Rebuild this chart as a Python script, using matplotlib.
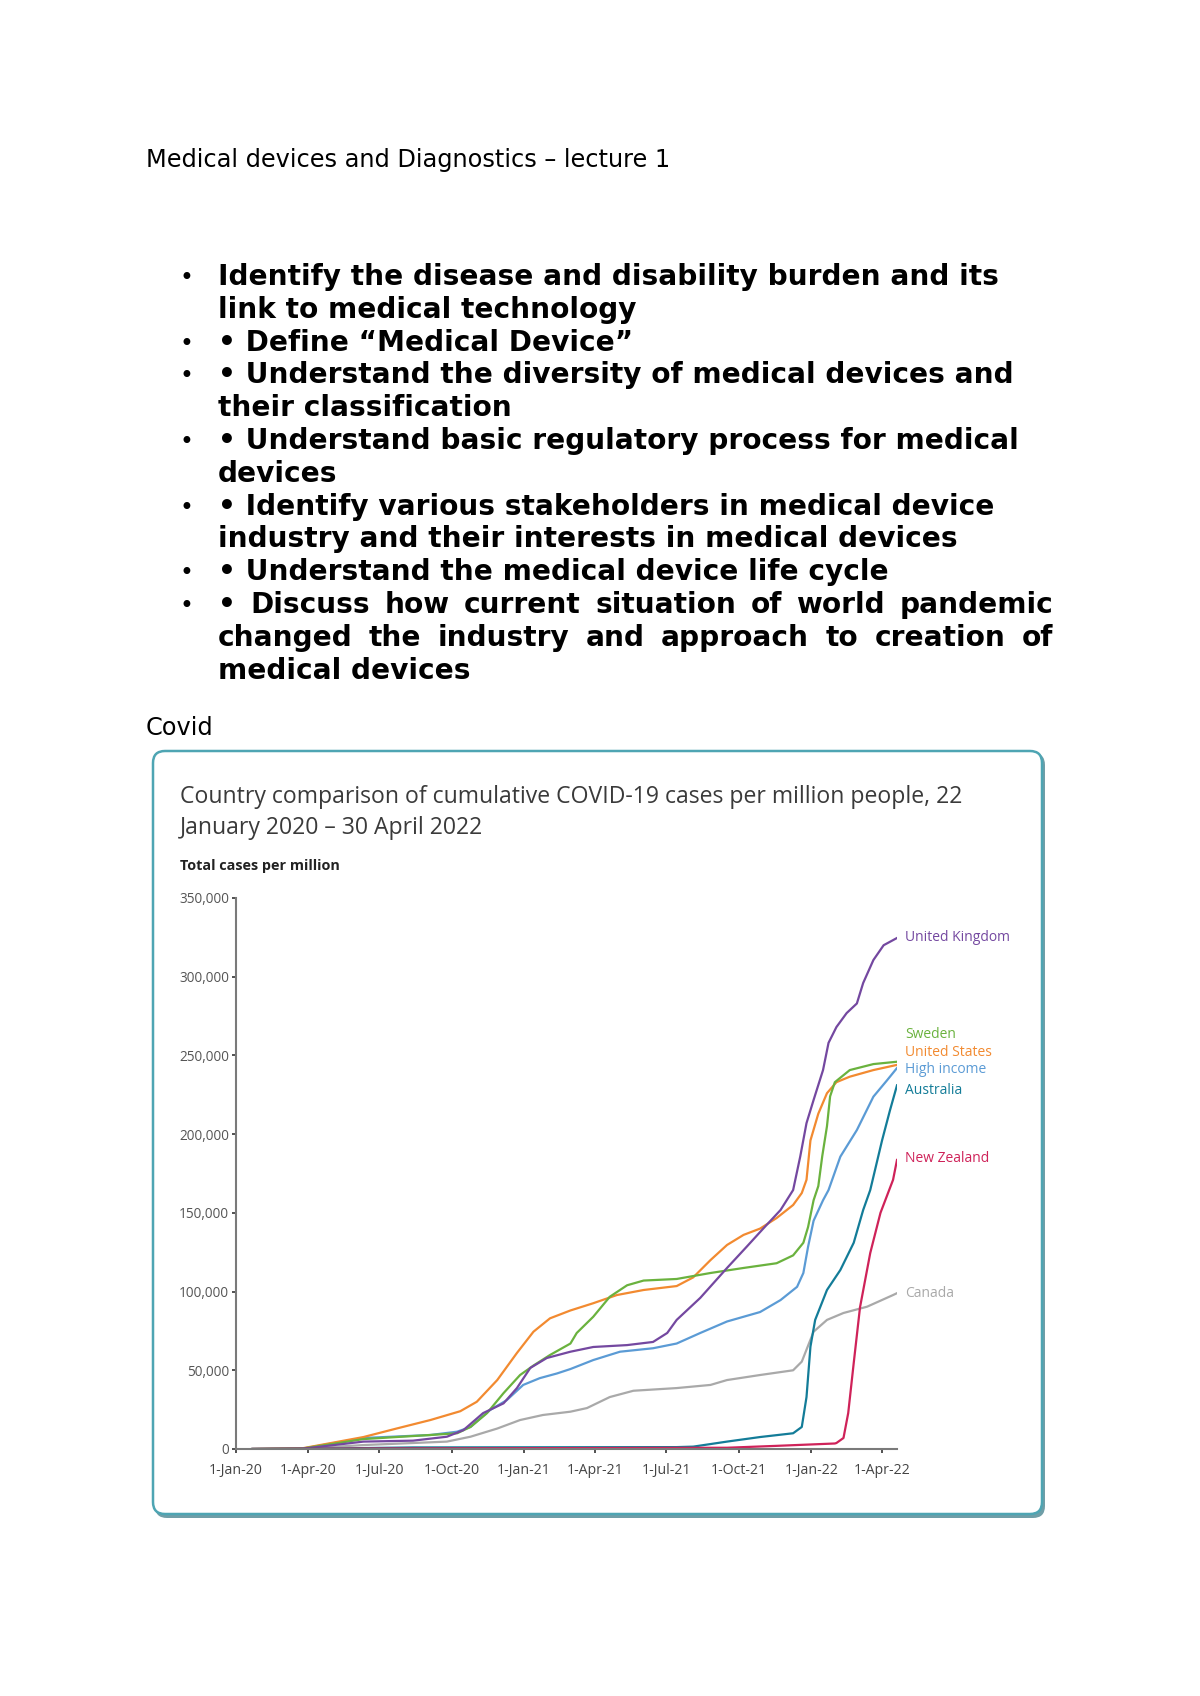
import matplotlib
matplotlib.use("Agg")
import matplotlib.pyplot as plt
import pandas as pd
from matplotlib.patches import FancyBboxPatch
from matplotlib.transforms import IdentityTransform
from matplotlib.ticker import FuncFormatter

W, H = 1200, 1696

### DATA (cumulative cases per million, thousands)
uk_dates = ["2020-01-22", "2020-03-26", "2020-06-11", "2020-08-13", "2020-09-25", "2020-10-16",
            "2020-11-10", "2020-12-06", "2020-12-23", "2021-01-09", "2021-01-30", "2021-03-01",
            "2021-03-30", "2021-05-12", "2021-06-14", "2021-07-02", "2021-07-14", "2021-08-13",
            "2021-09-16", "2021-10-11", "2021-11-01", "2021-11-23", "2021-12-09", "2021-12-18",
            "2021-12-26", "2022-01-04", "2022-01-16", "2022-01-23", "2022-02-02", "2022-02-15",
            "2022-02-28", "2022-03-08", "2022-03-21", "2022-04-03", "2022-04-20"]
uk_vals = [0, 0.2, 4.7, 5.3, 7.8, 12, 22.8, 29, 38.7, 51.5, 57.8, 61.8, 64.8, 66, 68, 73.7, 82, 96,
           115, 128.5, 140, 151.8, 164.5, 185.7, 207, 221.7, 240.7, 258, 268, 276.9, 283, 296,
           310.6, 320, 324.6]

se_dates = ["2020-01-22", "2020-03-26", "2020-06-11", "2020-07-23", "2020-09-04", "2020-10-08",
            "2020-10-25", "2020-11-15", "2020-12-06", "2020-12-27", "2021-01-13", "2021-02-03",
            "2021-03-01", "2021-03-09", "2021-03-30", "2021-04-20", "2021-05-12", "2021-06-02",
            "2021-07-14", "2021-08-26", "2021-10-07", "2021-11-18", "2021-12-09", "2021-12-22",
            "2021-12-28", "2022-01-04", "2022-01-10", "2022-01-15", "2022-01-21", "2022-01-25",
            "2022-01-31", "2022-02-19", "2022-03-21", "2022-04-20"]
se_vals = [0, 0.3, 6.3, 7.6, 8.9, 10, 14, 22.8, 35.5, 47, 53, 59.7, 67, 73.7, 84, 96.7, 104, 107,
           108, 111.8, 115, 118, 123, 131, 141, 158, 167, 186, 205, 224, 233, 240.7, 244.5, 246]

us_dates = ["2020-01-22", "2020-03-26", "2020-06-11", "2020-07-23", "2020-09-04", "2020-10-12",
            "2020-11-02", "2020-11-28", "2020-12-23", "2021-01-13", "2021-02-03", "2021-03-01",
            "2021-03-30", "2021-04-29", "2021-06-02", "2021-07-14", "2021-08-04", "2021-08-26",
            "2021-09-16", "2021-10-07", "2021-10-28", "2021-11-18", "2021-12-09", "2021-12-20",
            "2021-12-26", "2021-12-31", "2022-01-10", "2022-01-21", "2022-02-02", "2022-02-19",
            "2022-03-21", "2022-04-20"]
us_vals = [0, 0.5, 7.6, 13, 18.4, 24, 30, 43.8, 61, 74.5, 83, 88, 92.6, 97.8, 101, 103.5, 109, 120,
           129.6, 136, 140, 146.7, 155, 162.6, 171, 196, 213, 226, 233, 236.5, 240.7, 244]

hi_dates = ["2020-01-22", "2020-03-26", "2020-06-11", "2020-09-04", "2020-10-08", "2020-10-25",
            "2020-11-19", "2020-12-10", "2020-12-31", "2021-01-21", "2021-02-12", "2021-03-01",
            "2021-03-30", "2021-05-03", "2021-06-14", "2021-07-14", "2021-08-13", "2021-09-16",
            "2021-10-28", "2021-11-23", "2021-12-14", "2021-12-22", "2021-12-28", "2022-01-04",
            "2022-01-16", "2022-01-23", "2022-02-07", "2022-02-28", "2022-03-21", "2022-04-07",
            "2022-04-20"]
hi_vals = [0, 0.3, 7, 8.9, 11, 14, 24.8, 31, 40.7, 45, 48, 50.8, 56.5, 61.8, 64, 67, 73.7, 81, 87,
           94.6, 103, 111.8, 128.5, 145, 158, 164.5, 185.7, 202.6, 223.8, 234, 242]

au_dates = ["2020-01-22", "2020-03-26", "2020-08-13", "2021-07-14", "2021-08-04", "2021-09-16",
            "2021-10-28", "2021-12-09", "2021-12-20", "2021-12-26", "2021-12-31", "2022-01-06",
            "2022-01-21", "2022-02-07", "2022-02-24", "2022-03-08", "2022-03-17", "2022-04-01",
            "2022-04-11", "2022-04-20"]
au_vals = [0, 0.1, 1, 1.2, 1.5, 4.7, 7.6, 10, 14, 33, 65, 82, 101, 113.7, 131, 151.8, 164.5, 196,
           215, 231]

nz_dates = ["2020-01-22", "2020-03-26", "2020-06-11", "2021-09-16", "2021-11-18", "2022-01-31",
            "2022-02-02", "2022-02-11", "2022-02-17", "2022-02-24", "2022-03-04", "2022-03-17",
            "2022-03-30", "2022-04-15", "2022-04-20"]
nz_vals = [0, 0.1, 0.3, 0.8, 2, 3.5, 3.8, 7, 22.8, 54.6, 90, 124.5, 150, 171, 183.6]

ca_dates = ["2020-01-22", "2020-03-26", "2020-06-11", "2020-08-13", "2020-09-25", "2020-10-25",
            "2020-11-28", "2020-12-27", "2021-01-25", "2021-03-01", "2021-03-22", "2021-04-20",
            "2021-05-20", "2021-07-14", "2021-08-26", "2021-09-16", "2021-10-28", "2021-12-09",
            "2021-12-20", "2022-01-04", "2022-01-21", "2022-02-11", "2022-03-13", "2022-04-15",
            "2022-04-20"]
ca_vals = [0, 0.2, 2.5, 3.8, 4.7, 7.8, 13, 18.4, 21.6, 23.7, 26, 33, 37, 38.7, 40.7, 43.8, 47, 50,
           55.5, 74.5, 82, 86.4, 90.4, 97.8, 99]

# name, dates, values, line colour, label y (thousands)
series = [
    ("Canada", ca_dates, ca_vals, "#a9a9a9", 99),
    ("High income", hi_dates, hi_vals, "#5b9bd5", 241),
    ("United States", us_dates, us_vals, "#f28a30", 252),
    ("Sweden", se_dates, se_vals, "#6ab23e", 263.6),
    ("United Kingdom", uk_dates, uk_vals, "#7448a0", 324.6),
    ("Australia", au_dates, au_vals, "#137c98", 228),
    ("New Zealand", nz_dates, nz_vals, "#cf2259", 184.8),
]

x_ticks = ["2020-01-01", "2020-04-01", "2020-07-01", "2020-10-01", "2021-01-01",
           "2021-04-01", "2021-07-01", "2021-10-01", "2022-01-01", "2022-04-01"]
x_labels = ["1-Jan-20", "1-Apr-20", "1-Jul-20", "1-Oct-20", "1-Jan-21",
            "1-Apr-21", "1-Jul-21", "1-Oct-21", "1-Jan-22", "1-Apr-22"]
y_ticks = [0, 50000, 100000, 150000, 200000, 250000, 300000, 350000]

bullets = [
    "Identify the disease and disability burden and its\nlink to medical technology",
    "• Define “Medical Device”",
    "• Understand the diversity of medical devices and\ntheir classification",
    "• Understand basic regulatory process for medical\ndevices",
    "• Identify various stakeholders in medical device\nindustry and their interests in medical devices",
    "• Understand the medical device life cycle",
    "• Discuss how current situation of world pandemic\nchanged the industry and approach to creation of\nmedical devices",
]
justified = {"• Discuss how current situation of world pandemic",
             "changed the industry and approach to creation of"}


def fx(x):
    return x / W


def fy(y):
    return 1 - y / H


fig = plt.figure(figsize=(W / 100, H / 100), dpi=100)
fig.patch.set_facecolor("white")

### DOCUMENT TEXT
fig.text(fx(146), fy(166.5), "Medical devices and Diagnostics – lecture 1",
         fontsize=17.3, family="DejaVu Sans", va="baseline")

renderer = fig.canvas.get_renderer()
bold = dict(fontsize=20.2, family="DejaVu Sans", fontweight="bold", va="baseline")
base, step = 285, 32.8
row = 0
for item in bullets:
    fig.text(fx(186), fy(base + row * step), "•", fontsize=17, ha="center", va="baseline")
    for line in item.split("\n"):
        yb = fy(base + row * step)
        if line in justified:
            words = line.split(" ")
            objs = [fig.text(0, yb, w, **bold) for w in words]
            widths = [t.get_window_extent(renderer).width for t in objs]
            gap = (1053 - 218 - sum(widths)) / (len(words) - 1)
            xp = 218
            for t, wd in zip(objs, widths):
                t.set_x(fx(xp))
                xp += wd + gap
        else:
            fig.text(fx(218), yb, line, **bold)
        row += 1

fig.text(fx(146), fy(735), "Covid", fontsize=17.3, family="DejaVu Sans", va="baseline")

### CHART CARD
shadow = FancyBboxPatch((155, H - 1518), 890, 765, boxstyle="round,pad=0,rounding_size=12",
                        transform=IdentityTransform(), fc="#6f9ea7", ec="none", zorder=-3)
card = FancyBboxPatch((153, H - 1514), 889, 763, boxstyle="round,pad=0,rounding_size=12",
                      transform=IdentityTransform(), fc="white", ec="#4ea5b3", lw=1.8, zorder=-2)
fig.add_artist(shadow)
fig.add_artist(card)

osans = "Open Sans"
fig.text(fx(180), fy(803), "Country comparison of cumulative COVID-19 cases per million people, 22",
         fontsize=16.6, family=osans, color="#3a3a3a", va="baseline")
fig.text(fx(180), fy(834), "January 2020 – 30 April 2022",
         fontsize=16.6, family=osans, color="#3a3a3a", va="baseline")
fig.text(fx(180), fy(870), "Total cases per million", fontsize=10.4, family=osans,
         fontweight="bold", color="#222222", va="baseline")

### CHART
ax = fig.add_axes([fx(236), fy(1449), 661 / W, 551 / H])
ax.set_facecolor("none")
for name, d, v, c, ly in series:
    dd = pd.to_datetime(d)
    vv = [x * 1000 for x in v]
    ax.plot(dd, vv, color=c, lw=1.6, solid_joinstyle="round")
    ax.annotate(name, xy=(dd[-1], ly * 1000), xytext=(8, 0), textcoords="offset pixels",
                fontsize=10, family=osans, color=c, va="center", ha="left",
                annotation_clip=False)

ax.set_xlim(pd.Timestamp("2020-01-01"), pd.Timestamp("2022-04-20"))
ax.set_ylim(0, 350000)
ax.set_xticks(pd.to_datetime(x_ticks))
ax.set_xticklabels(x_labels)
ax.set_yticks(y_ticks)
ax.yaxis.set_major_formatter(FuncFormatter(lambda v, p: f"{int(v):,}"))
for s in ["top", "right"]:
    ax.spines[s].set_visible(False)
for s in ["left", "bottom"]:
    ax.spines[s].set_color("#7a7a7a")
    ax.spines[s].set_linewidth(1.5)
ax.tick_params(axis="y", length=3, width=1.2, color="#333333", pad=2,
               labelsize=9.8, labelcolor="#555555")
ax.tick_params(axis="x", length=3, width=1.2, color="#333333", pad=7,
               labelsize=10.2, labelcolor="#444444")
for lab in ax.get_xticklabels() + ax.get_yticklabels():
    lab.set_family(osans)

fig.savefig("out.png", dpi=100, facecolor="white")
